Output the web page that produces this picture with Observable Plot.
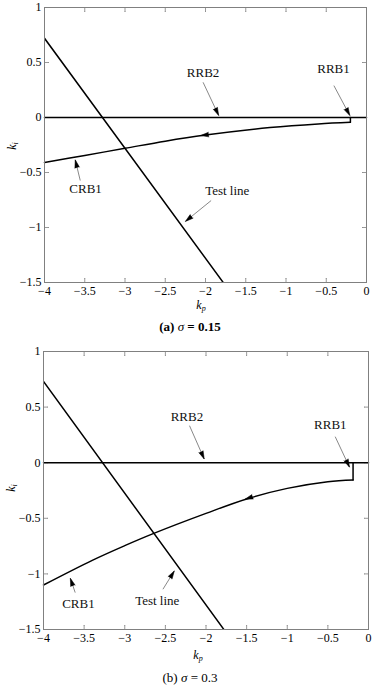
<!DOCTYPE html>
<html><head><meta charset="utf-8">
<script src="https://cdn.jsdelivr.net/npm/d3@7"></script>
<script src="https://cdn.jsdelivr.net/npm/@observablehq/plot@0.6"></script>
<style>
body{margin:0;background:#fff;}
#root{position:relative;width:384px;height:685px;font-family:"Liberation Serif",serif;overflow:hidden;}
.panel{position:absolute;left:0;}
.cap{position:absolute;left:0;width:380px;text-align:center;font-size:13px;line-height:16px;color:#000;}
</style></head><body><div id="root"></div>
<script>
// ---- shared ticks ----
const kpTicks = [-4, -3.5, -3, -2.5, -2, -1.5, -1, -0.5, 0];
const kiTicks = [1, 0.5, 0, -0.5, -1, -1.5];

// ---- panel (a) sigma = 0.15 ----
const rrb2A_kp = [-4, 0];
const rrb2A_ki = [0, 0];
const rrb1A_kp = [-0.2, -0.2];
const rrb1A_ki = [0, -0.043];
const crb1A_kp = [-0.2, -0.6, -1.2, -2.0, -2.5, -3.0, -3.5, -4.0];
const crb1A_ki = [-0.043, -0.058, -0.092, -0.16, -0.215, -0.28, -0.345, -0.41];
const testA_kp = [-4, -1.78];
const testA_ki = [0.72, -1.5];
const labelsA = ["RRB2", "RRB1", "CRB1", "Test line"];
const labelsA_kp = [-2.03, -0.41, -3.49, -1.73];
const labelsA_ki = [0.41, 0.445, -0.645, -0.664];
// annotation arrows: start kp, start ki, tip kp, tip ki
const arrowsA_x1 = [-2.03, -0.405, -3.556, -1.93];
const arrowsA_y1 = [0.32, 0.29, -0.573, -0.755];
const arrowsA_x2 = [-1.836, -0.207, -3.618, -2.25];
const arrowsA_y2 = [0.018, 0.018, -0.385, -0.945];
// direction arrow on CRB1: from -> tip
const dirA = [-1.9, -0.150, -2.06, -0.164];

// ---- panel (b) sigma = 0.3 ----
const rrb2B_kp = [-4, 0];
const rrb2B_ki = [0, 0];
const rrb1B_kp = [-0.19, -0.19];
const rrb1B_ki = [0, -0.155];
const crb1B_kp = [-0.19, -0.5, -1.0, -1.5, -2.0, -2.65, -3.0, -3.4, -4.0];
const crb1B_ki = [-0.155, -0.171, -0.231, -0.326, -0.456, -0.638, -0.746, -0.878, -1.10];
const testB_kp = [-4, -1.78];
const testB_ki = [0.73, -1.5];
const labelsB = ["RRB2", "RRB1", "CRB1", "Test line"];
const labelsB_kp = [-2.235, -0.47, -3.57, -2.60];
const labelsB_ki = [0.414, 0.342, -1.267, -1.243];
const arrowsB_x1 = [-2.203, -0.41, -3.61, -2.53];
const arrowsB_y1 = [0.333, 0.234, -1.168, -1.138];
const arrowsB_x2 = [-2.022, -0.234, -3.67, -2.39];
const arrowsB_y2 = [0.033, -0.04, -1.039, -0.973];
const dirB = [-1.40, -0.300, -1.52, -0.328];

const minus = d => d < 0 ? "\u2212" + Math.abs(d) : String(d);
const zip = (xs, ys) => xs.map((x, i) => ({x, y: ys[i]}));

function panel(cfg) {
  const {W = 384, H, mt, mb, ml, mr} = cfg;
  const pw = W - ml - mr, ph = H - mt - mb;
  const kx = pw / 4, ky = ph / 2.5;
  const ang = (x1, y1, x2, y2) => {
    const dx = (x2 - x1) * kx, dy = -(y2 - y1) * ky;
    return Math.atan2(dx, -dy) * 180 / Math.PI;
  };
  const arrows = cfg.ax1.map((x1, i) => ({x1, y1: cfg.ay1[i], x2: cfg.ax2[i], y2: cfg.ay2[i]}));
  const heads = arrows.map(a => ({x: a.x2, y: a.y2, rot: ang(a.x1, a.y1, a.x2, a.y2)}));
  heads.push({x: cfg.dir[2], y: cfg.dir[3], rot: ang(...cfg.dir)});
  const labels = cfg.lab.map((t, i) => ({t, x: cfg.lx[i], y: cfg.ly[i]}));
  const tickVec = (data, opts) => Plot.vector(data, {length: 4, r: 0, anchor: "start", stroke: "#808080", strokeWidth: 0.8, ...opts});
  const svg = Plot.plot({
    width: W, height: H,
    marginTop: mt, marginBottom: mb, marginLeft: ml, marginRight: mr,
    style: {fontFamily: "Liberation Serif, serif", fontSize: "12px", background: "white", color: "#000"},
    x: {domain: [-4, 0]},
    y: {domain: [-1.5, 1]},
    marks: [
      Plot.axisX(kpTicks, {tickSize: 0, tickPadding: 4, tickFormat: minus, label: null, fontSize: 12}),
      Plot.axisY(kiTicks, {tickSize: 0, tickPadding: 3, tickFormat: minus, label: null, fontSize: 12}),
      tickVec(kpTicks, {x: d => d, y: -1.5, rotate: 0}),
      tickVec(kpTicks, {x: d => d, y: 1, rotate: 180}),
      tickVec(kiTicks, {x: -4, y: d => d, rotate: 90}),
      tickVec(kiTicks, {x: 0, y: d => d, rotate: 270}),
      Plot.line(zip(cfg.rrb2x, cfg.rrb2y), {x: "x", y: "y", stroke: "black", strokeWidth: 1.5}),
      Plot.line(zip(cfg.rrb1x, cfg.rrb1y), {x: "x", y: "y", stroke: "black", strokeWidth: 1.5}),
      Plot.line(zip(cfg.crbx, cfg.crby), {x: "x", y: "y", stroke: "black", strokeWidth: 1.5, curve: "catmull-rom"}),
      Plot.line(zip(cfg.tx, cfg.ty), {x: "x", y: "y", stroke: "black", strokeWidth: 1.5, clip: true}),
      Plot.link(arrows, {x1: "x1", y1: "y1", x2: "x2", y2: "y2", stroke: "#555", strokeWidth: 0.7}),
      Plot.vector(heads, {x: "x", y: "y", rotate: "rot", shape: "spike", length: 8, r: 2.3, anchor: "end", fill: "black", stroke: "black", strokeWidth: 0.5}),
      Plot.text(labels, {x: "x", y: "y", text: "t", fontSize: 13, fontFamily: "Liberation Serif, serif", fill: "#111"}),
      Plot.frame({stroke: "#808080", strokeWidth: 1})
    ]
  });
  const s = d3.select(svg);
  const yl = s.append("text")
    .attr("transform", `translate(${cfg.ylx},${cfg.yly}) rotate(-90)`)
    .attr("text-anchor", "middle").attr("dominant-baseline", "middle")
    .attr("font-family", "Liberation Serif, serif").attr("font-size", 12);
  yl.append("tspan").attr("font-style", "italic").text("k");
  yl.append("tspan").attr("font-style", "italic").attr("font-size", 8).attr("dy", 3).text("i");
  const xl = s.append("text")
    .attr("x", cfg.xlx).attr("y", cfg.xly)
    .attr("text-anchor", "middle").attr("dominant-baseline", "middle")
    .attr("font-family", "Liberation Serif, serif").attr("font-size", 12);
  xl.append("tspan").attr("font-style", "italic").text("k");
  xl.append("tspan").attr("font-style", "italic").attr("font-size", 8).attr("dy", 3).text("p");
  return svg;
}

const root = document.getElementById("root");

const svgA = panel({H: 318, mt: 7, mb: 36, ml: 44, mr: 18,
  rrb2x: rrb2A_kp, rrb2y: rrb2A_ki, rrb1x: rrb1A_kp, rrb1y: rrb1A_ki,
  crbx: crb1A_kp, crby: crb1A_ki, tx: testA_kp, ty: testA_ki,
  lab: labelsA, lx: labelsA_kp, ly: labelsA_ki,
  ax1: arrowsA_x1, ay1: arrowsA_y1, ax2: arrowsA_x2, ay2: arrowsA_y2, dir: dirA,
  ylx: 13, yly: 146, xlx: 201, xly: 306});
svgA.classList.add("panel"); svgA.style.top = "0px";
root.appendChild(svgA);

const capA = document.createElement("div");
capA.className = "cap"; capA.style.top = "319px";
capA.innerHTML = '<b>(a)</b> <i>&sigma;</i> <b>= 0.15</b>';
root.appendChild(capA);

const topB = 340;
const svgB = panel({H: 325, mt: 11, mb: 36, ml: 43, mr: 16,
  rrb2x: rrb2B_kp, rrb2y: rrb2B_ki, rrb1x: rrb1B_kp, rrb1y: rrb1B_ki,
  crbx: crb1B_kp, crby: crb1B_ki, tx: testB_kp, ty: testB_ki,
  lab: labelsB, lx: labelsB_kp, ly: labelsB_ki,
  ax1: arrowsB_x1, ay1: arrowsB_y1, ax2: arrowsB_x2, ay2: arrowsB_y2, dir: dirB,
  ylx: 12, yly: 488 - topB, xlx: 198, xly: 656 - topB});
svgB.classList.add("panel"); svgB.style.top = topB + "px";
root.appendChild(svgB);

const capB = document.createElement("div");
capB.className = "cap"; capB.style.top = "670px";
capB.innerHTML = '(b) <i>&sigma;</i> = 0.3';
root.appendChild(capB);
</script></body></html>
